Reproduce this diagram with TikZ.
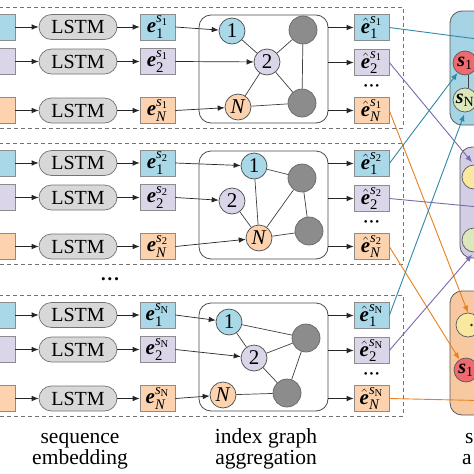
\documentclass[tikz,border=0pt]{standalone}
\usepackage{amsmath}
\usepackage{fontspec}
\setmainfont{Liberation Serif}
\usetikzlibrary{arrows.meta}
\definecolor{cblue}{HTML}{A9D9E8}
\definecolor{cpurp}{HTML}{DAD5E8}
\definecolor{corng}{HTML}{FCD3AE}
\definecolor{clstm}{HTML}{D8D8D8}
\definecolor{cgray}{HTML}{8C8C8C}
\definecolor{pblue}{HTML}{A6D4E4}
\definecolor{ppurp}{HTML}{D4CDE6}
\definecolor{porng}{HTML}{F8C8A0}
\definecolor{cred}{HTML}{EE6A6E}
\definecolor{cgreen}{HTML}{DCE8BC}
\definecolor{cyell}{HTML}{F8E8A0}
\definecolor{lteal}{HTML}{2F8AA6}
\definecolor{lpurp}{HTML}{7A6AAA}
\definecolor{lorng}{HTML}{E8821E}
\newcommand{\fsz}{\fontsize{20}{22}\selectfont}
\newcommand{\fse}{\fontsize{21}{22}\selectfont}
\newcommand{\fsl}{\fontsize{21.5}{22}\selectfont}
\newcommand{\Eb}{\text{\bfseries\itshape e}}
\newcommand{\ev}[2]{$\Eb^{\text{\itshape s}_{\text{#1}}}_{\text{#2}}$}
\newcommand{\eh}[2]{$\hat{\Eb}^{\text{\itshape s}_{\text{#1}}}_{\text{#2}}$}
\newcommand{\bs}{\textbf{\textit{s}}}
\tikzset{
 inbox/.style={draw=black!45, line width=0.6pt, minimum width=35pt, minimum height=26pt, inner sep=0pt},
 lstm/.style={draw=black!55, fill=clstm, line width=0.7pt, rounded corners=12.5pt, minimum width=78pt, minimum height=25pt, inner sep=0pt, font=\fsz},
 ebox/.style={inbox, font=\fse},
 gnode/.style={circle, draw=black!70, line width=0.7pt, minimum size=26pt, inner sep=0pt, font=\fse},
 gnd/.style={circle, draw=black!60, line width=0.7pt, fill=cgray, minimum size=28pt, inner sep=0pt},
 gbox/.style={draw=black!70, line width=0.8pt, rounded corners=12pt, fill=white, minimum width=129pt, minimum height=108pt, inner sep=0pt},
 grp/.style={draw=black!55, line width=0.9pt, dash pattern=on 4pt off 3pt},
 arr/.style={draw=black!85, line width=0.7pt, -{Latex[length=7pt,width=5.5pt]}},
 gedge/.style={draw=black!75, line width=0.7pt},
 panel/.style={draw=black!65, line width=0.8pt, rounded corners=12pt},
 pc/.style={circle, draw=black!65, line width=0.7pt, minimum size=24pt, inner sep=0pt, font=\fsz},
 tln/.style={draw=lteal, line width=0.9pt},
 pln/.style={draw=lpurp, line width=0.9pt},
 oln/.style={draw=lorng, line width=0.9pt},
 tipc/.style={-{Latex[length=7pt,width=5.5pt]}},
 lab/.style={font=\fsl, inner sep=0pt, anchor=base},
 dotrow/.style={font=\fontsize{11}{11}\selectfont, inner sep=0pt},
}
\begin{document}
\begin{tikzpicture}[x=1pt,y=-1pt]
\useasboundingbox (0,0) rectangle (474,474);
\clip (0,0) rectangle (474,474);
\fill[white] (0,0) rectangle (474,474);

% group frames and graph boxes
\foreach \g/\tp in {1/7,2/143,3/295}{
  \draw[grp] (-5,\tp) rectangle (403,\tp+121);
  \node[gbox] (gbx-\g) at (263.5,\tp+62) {};
}

% graph 1
\node[gnode, fill=cblue] (n1-1) at (232,31) {1};
\node[gnode, fill=cpurp] (n2-1) at (267,62) {2};
\node[gnode, fill=corng] (nN-1) at (238,107) {\textit{N}};
\node[gnd] (ga-1) at (303,30) {};
\node[gnd] (gb-1) at (302,103) {};
\draw[gedge] (n1-1)--(n2-1) (n2-1)--(nN-1) (n2-1)--(ga-1) (n2-1)--(gb-1) (nN-1)--(gb-1) (ga-1)--(gb-1);
% graph 2
\node[gnode, fill=cblue] (n1-2) at (254,166) {1};
\node[gnode, fill=cpurp] (n2-2) at (232,201) {2};
\node[gnode, fill=corng] (nN-2) at (259,238) {\textit{N}};
\node[gnd] (ga-2) at (302,178) {};
\node[gnd] (gb-2) at (309,231) {};
\draw[gedge] (n1-2)--(ga-2) (n1-2)--(nN-2) (n2-2)--(nN-2) (nN-2)--(ga-2) (nN-2)--(gb-2) (ga-2)--(gb-2);
% graph 3
\node[gnode, fill=cblue] (n1-3) at (229,322) {1};
\node[gnode, fill=cpurp] (n2-3) at (254,358) {2};
\node[gnode, fill=corng] (nN-3) at (223,395) {\textit{N}};
\node[gnd] (ga-3) at (306,338) {};
\node[gnd] (gb-3) at (287,393) {};
\draw[gedge] (n1-3)--(n2-3) (n1-3)--(ga-3) (n2-3)--(ga-3) (n2-3)--(gb-3) (ga-3)--(gb-3) (nN-3)--(gb-3);

% rows
\foreach \g/\tp/\sq in {1/7/1,2/143/2,3/295/N}{
  \node[inbox, fill=cblue] (ia-\g) at (-2.5,\tp+20) {};
  \node[inbox, fill=cpurp] (ib-\g) at (-2.5,\tp+54.5) {};
  \node[inbox, fill=corng] (ic-\g) at (-2.5,\tp+103.5) {};
  \node[lstm] (la-\g) at (78,\tp+20) {LSTM};
  \node[lstm] (lb-\g) at (78,\tp+54.5) {LSTM};
  \node[lstm] (lc-\g) at (78,\tp+103.5) {LSTM};
  \node[ebox, fill=cblue] (ea-\g) at (157.5,\tp+20) {\ev{\sq}{1}};
  \node[ebox, fill=cpurp] (eb-\g) at (157.5,\tp+54.5) {\ev{\sq}{2}};
  \node[ebox, fill=corng] (ec-\g) at (157.5,\tp+103.5) {\ev{\sq}{\itshape N}};
  \node[ebox, fill=cblue] (ha-\g) at (371.5,\tp+20.5) {\eh{\sq}{1}};
  \node[ebox, fill=cpurp] (hb-\g) at (371.5,\tp+55.5) {\eh{\sq}{2}};
  \node[ebox, fill=corng] (hc-\g) at (371.5,\tp+103.5) {\eh{\sq}{\itshape N}};
  \node[dotrow] (hd-\g) at (371.5,\tp+80.5) {\textbullet\,\textbullet\,\textbullet};
  \draw[arr] (ia-\g) -- (la-\g);
  \draw[arr] (ib-\g) -- (lb-\g);
  \draw[arr] (ic-\g) -- (lc-\g);
  \draw[arr] (la-\g) -- (ea-\g);
  \draw[arr] (lb-\g) -- (eb-\g);
  \draw[arr] (lc-\g) -- (ec-\g);
  \draw[arr] (ea-\g.east) -- (n1-\g);
  \draw[arr] (eb-\g.east) -- (n2-\g);
  \draw[arr] (ec-\g.east) -- (nN-\g);
  \draw[arr] (gbx-\g.east |- ha-\g) -- (ha-\g);
  \draw[arr] (gbx-\g.east |- hb-\g) -- (hb-\g);
  \draw[arr] (gbx-\g.east |- hc-\g) -- (hc-\g);
}
\node[dotrow, font=\fontsize{13}{13}\selectfont] (gdots) at (110,281) {\textbullet\,\textbullet\,\textbullet};

% right panels
\draw[panel, fill=pblue] (450,11) rectangle (540,125);
\draw[panel, fill=ppurp] (460,147) rectangle (540,258);
\draw[panel, fill=porng] (450,291) rectangle (540,415);
\node[pc, fill=cred] (rt) at (465,63) {\bs$_{\text{1}}$};
\node[pc, fill=cgreen] (gt) at (465,100) {\bs$_{\text{N}}$};
\draw[gedge] (rt.-75) -- (gt.75);
\node[pc, fill=cyell] (ym) at (474,177) {};
\node[pc, fill=cgreen] (gm) at (474,240) {};
\node[pc, fill=cyell] (yb) at (468,325) {};
\fill[black!85] (471.5,325) circle (1.3pt);
\node[pc, fill=cred] (rb) at (466,370) {\bs$_{\text{1}}$};

% colored connectors
\coordinate (x1) at (500,42);
\coordinate (x2) at (500,209);
\coordinate (x3) at (500,401);
\draw[tln] (ha-1.east) -- (x1);
\draw[pln, tipc, shorten >=3pt] (hb-1.east) -- (ym.north);
\draw[oln, tipc] (hc-1.east) -- (yb.north);
\draw[tln, tipc] (ha-2.east) -- (rt);
\draw[pln] (hb-2.east) -- (x2);
\draw[oln, tipc] (hc-2.east) -- (rb);
\draw[tln, tipc, shorten >=2pt] (ha-3.east) -- (gt.south);
\draw[pln, tipc, shorten >=3pt] (hb-3.east) -- (gm.south);
\draw[oln] (hc-3.east) -- (x3);

% captions
\node[lab] (c1a) at (80,443) {sequence};
\node[lab] (c1b) at (80,464) {embedding};
\node[lab] (c2a) at (266,443) {index graph};
\node[lab] (c2b) at (266,464) {aggregation};
\node[lab, anchor=base west] (c3a) at (465,443) {s};
\node[lab, anchor=base west] (c3b) at (462,464) {a};
\end{tikzpicture}
\end{document}
